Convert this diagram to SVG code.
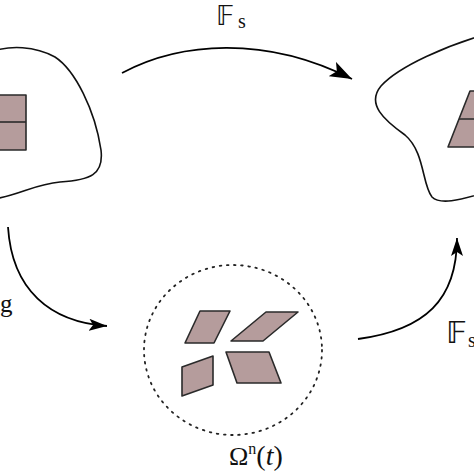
<svg xmlns="http://www.w3.org/2000/svg" width="474" height="474" viewBox="0 0 474 474">
<style>
.blob{fill:none;stroke:#111;stroke-width:1.6}
.piece{fill:#b59c9c;stroke:#2a2a2a;stroke-width:1.6;stroke-linejoin:round}
.conn{fill:none;stroke:#000;stroke-width:1.8}
.serif{font-family:"Liberation Serif","DejaVu Serif",serif;fill:#111}
.bb{font-family:"DejaVu Sans","DejaVu Serif","Noto Sans",sans-serif;fill:#111}
</style>
<defs>
<marker id="arrowBig" markerUnits="userSpaceOnUse" markerWidth="24" markerHeight="16" refX="22" refY="8" orient="auto">
<path d="M0,0 L22,8 L0,16 L5,8 z" fill="#000"/>
</marker>
<marker id="arrow" markerUnits="userSpaceOnUse" markerWidth="20" markerHeight="12" refX="18" refY="6" orient="auto">
<path d="M0,0 L18,6 L0,12 L4,6 z" fill="#000"/>
</marker>
</defs>
<rect width="474" height="474" fill="#fff"/>

<g id="source-domain">
<path class="blob" d="M-10,52 C10,45 35,46 55,57 C75,70 95,110 101,150 C104,175 90,180 60,182 C35,184 20,195 -10,200"/>
<rect class="piece" x="-6" y="95" width="32" height="55"/>
<line class="piece" x1="-6" y1="122" x2="26" y2="122"/>
</g>

<g id="target-domain">
<path class="blob" d="M480,36 C450,45 400,65 381,86 C366,104 384,120 405,135 C425,152 422,185 432,197 C440,205 460,200 480,194"/>
<polygon class="piece" points="470,91 490,91 500,147 448,147"/>
<line class="piece" x1="459" y1="119" x2="500" y2="119"/>
</g>

<g id="reference-config">
<ellipse cx="233" cy="350" rx="89" ry="85" fill="none" stroke="#222" stroke-width="1.8" stroke-dasharray="1.6 5.6" stroke-linecap="round"/>
<polygon class="piece" points="185,343 200,311 230,311 214,343"/>
<polygon class="piece" points="231,341 266,312 298,312 263,341"/>
<polygon class="piece" points="182,367 213,356 213,385 182,396"/>
<polygon class="piece" points="226,352 269,352 281,383 237,383"/>
<text class="serif" x="229" y="465" font-size="26">Ω<tspan font-size="16" dy="-11">n</tspan><tspan dy="11" font-size="28">(</tspan><tspan font-style="italic" font-size="28">t</tspan><tspan font-size="28">)</tspan></text>
</g>

<g id="connectors">
<path class="conn" d="M122,73 C180,42 265,35 352,79" marker-end="url(#arrowBig)"/>
<path class="conn" d="M8,227 C12,290 50,322 107,326" marker-end="url(#arrow)"/>
<path class="conn" d="M358,339 C425,330 457,300 457,238" marker-end="url(#arrow)"/>
</g>

<g id="labels">
<text class="bb" x="216" y="25" font-size="27">𝔽</text>
<text class="serif" x="238" y="28" font-size="20">s</text>
<text class="serif" x="0" y="312" font-size="25">g</text>
<text class="bb" x="446" y="343" font-size="31">𝔽</text>
<text class="serif" x="468" y="347" font-size="20">s</text>
</g>
</svg>
